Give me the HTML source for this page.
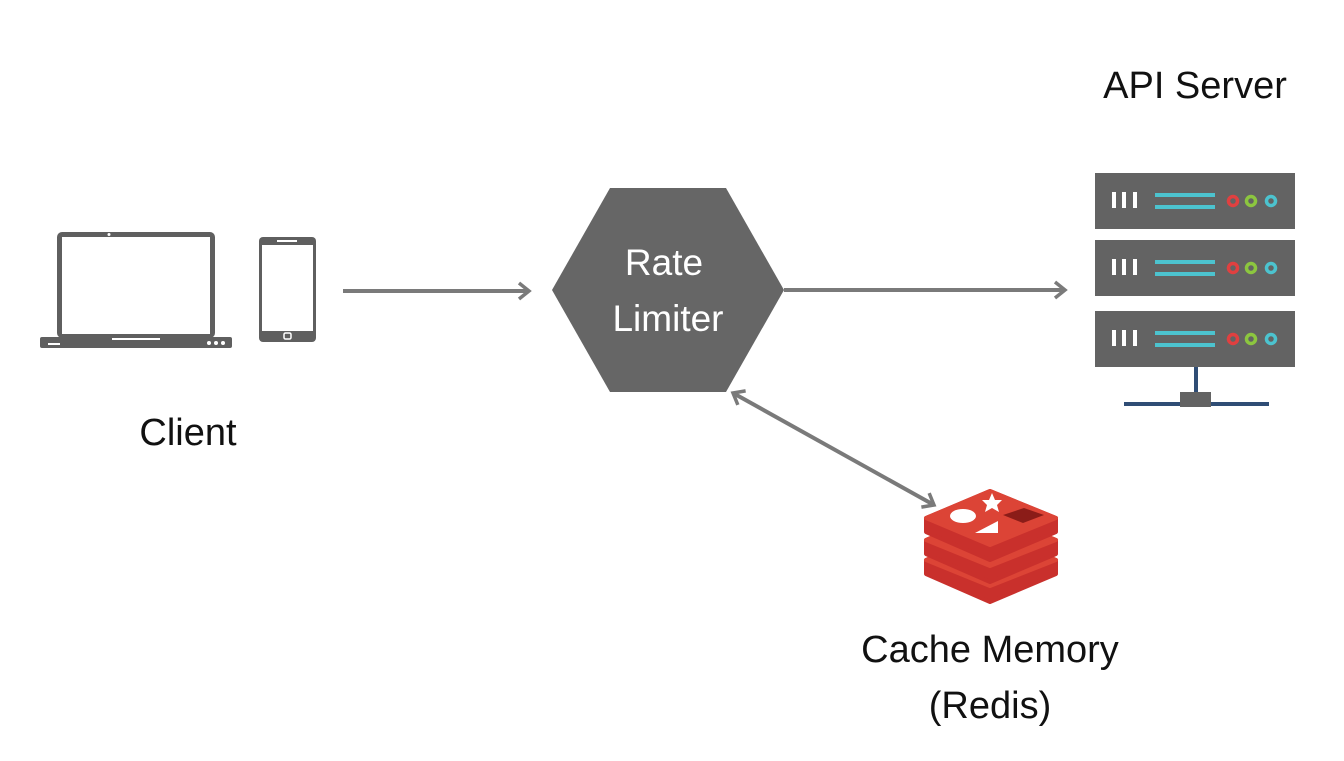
<!DOCTYPE html>
<html><head><style>
body{margin:0;background:#fff;width:1344px;height:756px;overflow:hidden}
</style></head><body>
<svg width="1344" height="756" viewBox="0 0 1344 756" xmlns="http://www.w3.org/2000/svg" font-family="Liberation Sans, sans-serif">
<defs>
<marker id="ah" markerWidth="18" markerHeight="20" refX="15" refY="10" orient="auto" markerUnits="userSpaceOnUse">
<path d="M5,2 L15,10 L5,18" fill="none" stroke="#7a7a7a" stroke-width="3.5"/>
</marker>
<marker id="ahs" markerWidth="18" markerHeight="20" refX="3" refY="10" orient="auto" markerUnits="userSpaceOnUse">
<path d="M13,2 L3,10 L13,18" fill="none" stroke="#7a7a7a" stroke-width="3.5"/>
</marker>
</defs>
<!-- laptop -->
<rect x="57" y="232" width="158" height="106" rx="5" fill="#5f5f5f"/>
<rect x="62" y="237" width="148" height="97" fill="#fff"/>
<circle cx="109" cy="234.5" r="1.5" fill="#fff"/>
<rect x="40" y="337" width="192" height="11" rx="2" fill="#5f5f5f"/>
<rect x="112" y="338" width="48" height="2" fill="#fff"/>
<rect x="48" y="343" width="12" height="2" fill="#fff"/>
<circle cx="209" cy="343" r="2" fill="#fff"/><circle cx="216" cy="343" r="2" fill="#fff"/><circle cx="223" cy="343" r="2" fill="#fff"/>
<!-- phone -->
<rect x="259" y="237" width="57" height="105" rx="4" fill="#5f5f5f"/>
<rect x="262" y="245" width="51" height="86" fill="#fff"/>
<rect x="277" y="240" width="20" height="2" fill="#fff"/>
<rect x="284" y="333" width="7" height="6" rx="1.5" fill="none" stroke="#fff" stroke-width="1.5"/>
<text x="188" y="445" font-size="38" text-anchor="middle" fill="#111">Client</text>
<!-- arrows -->
<line x1="343" y1="291" x2="529" y2="291" stroke="#7a7a7a" stroke-width="4" marker-end="url(#ah)"/>
<line x1="784" y1="290" x2="1065" y2="290" stroke="#7a7a7a" stroke-width="4" marker-end="url(#ah)"/>
<line x1="733" y1="393" x2="934" y2="505" stroke="#7a7a7a" stroke-width="4" marker-start="url(#ahs)" marker-end="url(#ah)"/>
<!-- hexagon -->
<polygon points="552,290 610,188 726,188 784,290 726,392 610,392" fill="#666"/>
<text x="664" y="275" font-size="37" text-anchor="middle" fill="#fff">Rate</text>
<text x="668" y="331" font-size="37" text-anchor="middle" fill="#fff">Limiter</text>
<!-- server -->
<text x="1195" y="98" font-size="38" text-anchor="middle" fill="#111">API Server</text>
<g id="srv">
<rect x="1095" y="173" width="200" height="56" fill="#636363"/>
<rect x="1112" y="192" width="4" height="16" fill="#fff"/><rect x="1122" y="192" width="4" height="16" fill="#fff"/><rect x="1133" y="192" width="4" height="16" fill="#fff"/>
<rect x="1155" y="193" width="60" height="4" fill="#4cc3cf"/><rect x="1155" y="205" width="60" height="4" fill="#4cc3cf"/>
<circle cx="1233" cy="201" r="4.5" fill="none" stroke="#e04040" stroke-width="3.5"/>
<circle cx="1251" cy="201" r="4.5" fill="none" stroke="#8cc63f" stroke-width="3.5"/>
<circle cx="1271" cy="201" r="4.5" fill="none" stroke="#4cc3cf" stroke-width="3.5"/>
</g>
<use href="#srv" y="67"/>
<use href="#srv" y="138"/>
<rect x="1194" y="367" width="4" height="30" fill="#2f4d75"/>
<rect x="1124" y="402" width="145" height="4" fill="#2f4d75"/>
<rect x="1180" y="392" width="31" height="15" fill="#636363"/>
<!-- redis -->
<g stroke-linejoin="round">
<path d="M926,560 L990,533 L1056,560 L1056,574 L990,602 L926,574 Z" fill="#c9302c" stroke="#c9302c" stroke-width="4"/>
<path d="M926,560 L990,533 L1056,560 L990,586 Z" fill="#dc4436" stroke="#dc4436" stroke-width="4"/>
<path d="M926,540 L990,513 L1056,540 L1056,554 L990,582 L926,554 Z" fill="#c9302c" stroke="#c9302c" stroke-width="4"/>
<path d="M926,540 L990,513 L1056,540 L990,566 Z" fill="#dc4436" stroke="#dc4436" stroke-width="4"/>
<path d="M926,518 L990,491 L1056,518 L1056,532 L990,560 L926,532 Z" fill="#c9302c" stroke="#c9302c" stroke-width="4"/>
<path d="M926,518 L990,491 L1056,518 L990,545 Z" fill="#dc4436" stroke="#dc4436" stroke-width="4"/>
<ellipse cx="963" cy="516" rx="13" ry="7" fill="#fff"/>
<polygon points="992,493 995,500 1002,500 997,505 999,512 992,508 985,512 987,505 982,500 989,500" fill="#fff"/>
<polygon points="975,533 998,521 998,533" fill="#fff"/>
<polygon points="1003,515 1024,508 1044,515 1023,523" fill="#8b1c18"/>
</g>
<text x="990" y="662" font-size="38" text-anchor="middle" fill="#111">Cache Memory</text>
<text x="990" y="718" font-size="38" text-anchor="middle" fill="#111">(Redis)</text>
</svg>
</body></html>
